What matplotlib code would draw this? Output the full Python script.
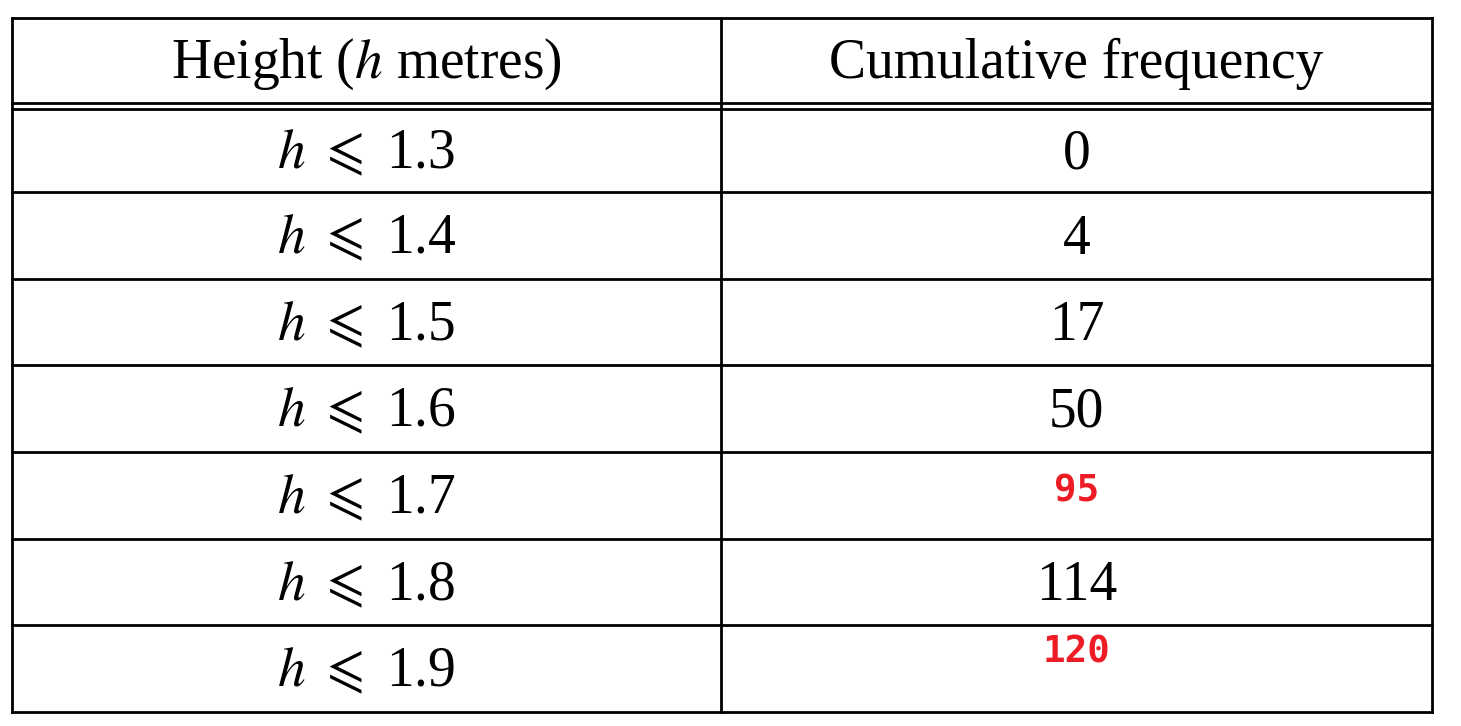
import matplotlib
matplotlib.use("Agg")
import matplotlib.pyplot as plt

plt.rcParams["mathtext.fontset"] = "stix"

headers = ["Height ($h$ metres)", "Cumulative frequency"]
heights = ["1.3", "1.4", "1.5", "1.6", "1.7", "1.8", "1.9"]
cumfreq = ["0", "4", "17", "50", "95", "114", "120"]
highlighted = [False, False, False, False, True, False, True]

fig = plt.figure(figsize=(14.61, 7.26), dpi=100)
ax = fig.add_axes([0, 0, 1, 1])
ax.set_xlim(0, 1461)
ax.set_ylim(726, 0)
ax.axis("off")

left, mid, right = 12, 721, 1432
row_edges = [18, 106, 192, 279, 365, 452, 539, 625, 712]
lw = 2
kw = dict(color="black", lw=lw, solid_capstyle="projecting")
for y in row_edges:
    if y == 106:
        ax.plot([left, right], [103, 103], **kw)
        ax.plot([left, right], [109, 109], **kw)
    else:
        ax.plot([left, right], [y, y], **kw)
for x in [left, mid, right]:
    ax.plot([x, x], [18, 712], **kw)

serif = "Liberation Serif"
fs = 40
ax.text((left + mid) / 2, 64, headers[0], ha="center", va="center", fontsize=fs, family=serif)
ax.text((mid + right) / 2, 64, headers[1], ha="center", va="center", fontsize=fs, family=serif)

for i, (h, c, hl) in enumerate(zip(heights, cumfreq, highlighted)):
    top = row_edges[i + 1] + (3 if i == 0 else 0)
    yc = (top + row_edges[i + 2]) / 2 + 4
    ax.text((left + mid) / 2, yc, "$h\\ \\leqslant$ " + h, ha="center", va="center",
            fontsize=fs, family=serif)
    if hl:
        ax.text((mid + right) / 2, yc - (8 if i == 4 else 20), c, ha="center", va="center",
                fontsize=27, family="DejaVu Sans Mono", weight="bold", color="#ee1c25")
    else:
        ax.text((mid + right) / 2, yc, c, ha="center", va="center", fontsize=fs, family=serif)

fig.savefig("out.png", dpi=100)
